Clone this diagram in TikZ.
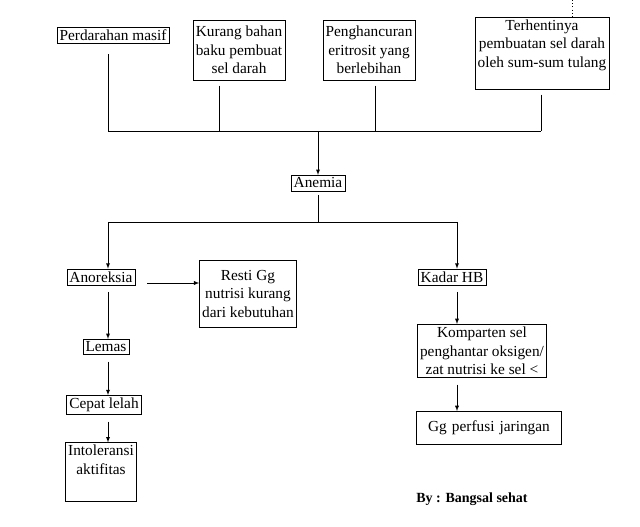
\documentclass[tikz,border=0pt]{standalone}
\usepackage{fontspec}
\setmainfont{Liberation Serif}
\begin{document}
\begin{tikzpicture}[x=0.75pt,y=-0.75pt,
    box/.style={draw,thin,align=center,inner sep=2pt,font=\fontsize{11.5}{14}\selectfont},
    line/.style={draw,thin},
    arr/.style={draw,thin,-latex}]
        \useasboundingbox (0,0) rectangle (640,527);
        % Nodes
        \node[box] (perdarahan) at (113,35) {Perdarahan masif};
        \node[box,minimum height=45pt] (kurang) at (239,50) {Kurang bahan\\baku pembuat\\sel darah};
        \node[box,minimum height=45pt] (hancur) at (369,50) {Penghancuran\\eritrosit yang\\berlebihan};
        \node[box,text depth=14pt] (henti) at (542,53) {Terhentinya\\pembuatan sel darah\\oleh sum-sum tulang};
        \coordinate (atas) at (572,0);
        \node[box] (anemia) at (318,183) {Anemia};
        \node[box] (anoreksia) at (101,277) {Anoreksia};
        \node[box,minimum height=50pt] (resti) at (248,294) {Resti Gg\\nutrisi kurang\\dari kebutuhan};
        \node[box] (lemas) at (106,347) {Lemas};
        \node[box] (cepat) at (104,405) {Cepat lelah};
        \node[box,text depth=18pt] (intol) at (101,472) {Intoleransi\\aktifitas};
        \node[box] (kadar) at (452,277) {Kadar HB};
        \node[box] (komparten) at (482,351) {Komparten sel\\penghantar oksigen/\\zat nutrisi ke sel <};
        \node[box,minimum height=25pt,text width=105pt] (gg) at (489,428) {Gg perfusi jaringan};
        \node[font=\bfseries\fontsize{10.5}{12}\selectfont] (by) at (472,499) {By : Bangsal sehat};
        % Joints
        \coordinate (j1) at (108,131);
        \coordinate (j2) at (219,131);
        \coordinate (j3) at (375,131);
        \coordinate (j4) at (541,131);
        \coordinate (jm) at (318,131);
        \coordinate (s) at (318,222);
        \coordinate (sl) at (108,222);
        \coordinate (sr) at (457,222);
        \coordinate (ka) at (147,283);
        % Edges
        \draw[dotted] (atas) -- (henti.north -| atas);
        \draw[line] ([yshift=-8pt]perdarahan.south -| j1) -- (j1);
        \draw[line] (j1) -- (j4);
        \draw[line] ([yshift=-4pt]kurang.south -| j2) -- (j2);
        \draw[line] ([yshift=-4pt]hancur.south -| j3) -- (j3);
        \draw[line] ([yshift=-4pt]henti.south -| j4) -- (j4);
        \draw[arr] (jm) -- (anemia);
        \draw[line] ([yshift=-3pt]anemia.south) -- (s);
        \draw[line] (sl) -- (sr);
        \draw[arr] (sl) -- (sl |- anoreksia.north);
        \draw[arr] (sr) -- (sr |- kadar.north);
        \draw[arr] (ka) -- (resti.west |- ka);
        \draw[arr] ([yshift=-5pt]anoreksia.south -| sl) -- (sl |- lemas.north);
        \draw[arr] ([yshift=-5pt]lemas.south -| sl) -- (sl |- cepat.north);
        \draw[arr] ([yshift=-5pt]cepat.south -| sl) -- (sl |- intol.north);
        \draw[arr] ([yshift=-5pt]kadar.south -| sr) -- (sr |- komparten.north);
        \draw[arr] ([yshift=-5pt]komparten.south -| sr) -- (sr |- gg.north);
\end{tikzpicture}
\end{document}
